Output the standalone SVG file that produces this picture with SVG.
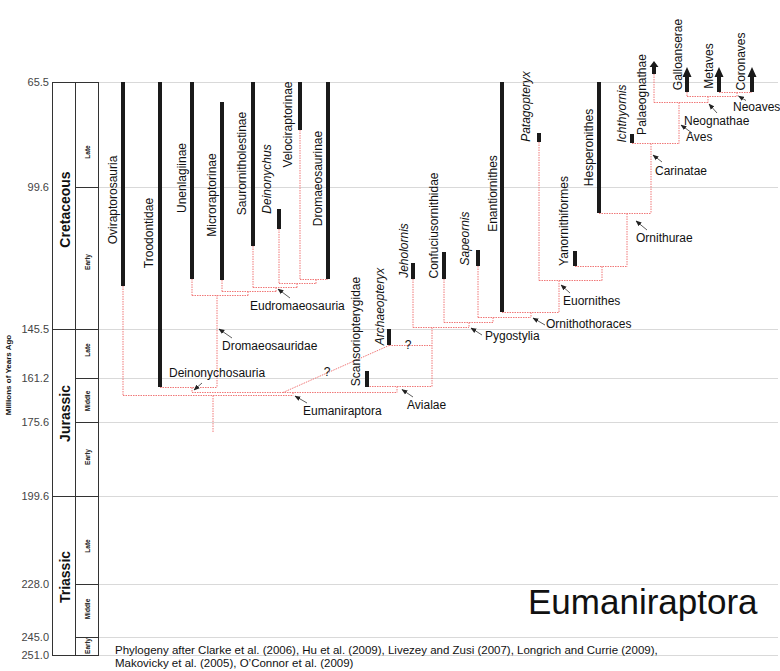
<svg xmlns="http://www.w3.org/2000/svg" width="780" height="671" viewBox="0 0 780 671">
<defs>
<marker id="ah" viewBox="0 0 10 10" refX="9" refY="5" markerWidth="6" markerHeight="6" orient="auto" markerUnits="userSpaceOnUse">
<path d="M0,1 L10,5 L0,9 z" fill="#222"/>
</marker>
<style>
.grid{stroke:#d9d9d9;stroke-width:1;fill:none}
.box{stroke:#333;stroke-width:1;fill:none}
.bar{fill:#1a1a1a}
.c{stroke:#f07878;stroke-width:1;stroke-dasharray:1.5 1;fill:none}
.ptr{stroke:#333;stroke-width:0.8;fill:none;marker-end:url(#ah)}
text{font-family:"Liberation Sans",Arial,sans-serif;fill:#111}
.lbl{font-size:12px}
.it{font-style:italic}
.age{font-size:11px;fill:#444;text-anchor:end}
.per{font-size:14px;font-weight:bold;text-anchor:middle}
.ep{font-size:6.5px;font-weight:bold;text-anchor:middle}
.r{text-anchor:middle}
.big{font-size:35px}
.foot{font-size:11.5px}
.thick{fill:#1a1a1a}
</style>
</defs>

<g id="gridlines">
<path class="grid" d="M98,82.5H778 M98,187.5H778 M98,329.5H778 M98,378.5H778 M98,422.5H778 M98,496.5H778 M98,584.5H778 M98,637.5H778 M98,655.5H778"/>
</g>

<g id="timescale">
<rect class="box" x="52.5" y="82.5" width="46" height="573"/>
<path class="box" d="M75.5,82.5V655.5 M52.5,329.5H98.5 M52.5,496.5H98.5 M75.5,187.5H98.5 M75.5,378.5H98.5 M75.5,422.5H98.5 M75.5,584.5H98.5 M75.5,637.5H98.5"/>
<text class="age" x="49" y="86">65.5</text>
<text class="age" x="49" y="191">99.6</text>
<text class="age" x="49" y="333">145.5</text>
<text class="age" x="49" y="382">161.2</text>
<text class="age" x="49" y="426">175.6</text>
<text class="age" x="49" y="500">199.6</text>
<text class="age" x="49" y="588">228.0</text>
<text class="age" x="49" y="641">245.0</text>
<text class="age" x="49" y="659">251.0</text>
<text font-size="8" font-weight="bold" text-anchor="middle" transform="translate(11,375) rotate(-90)">Millions of Years Ago</text>
<text class="per" transform="translate(69.5,209.5) rotate(-90)">Cretaceous</text>
<text class="per" transform="translate(69.5,413.5) rotate(-90)">Jurassic</text>
<text class="per" transform="translate(69.5,577) rotate(-90)">Triassic</text>
<text class="ep" transform="translate(90,152) rotate(-90)">Late</text>
<text class="ep" transform="translate(90,262) rotate(-90)">Early</text>
<text class="ep" transform="translate(90,350) rotate(-90)">Late</text>
<text class="ep" transform="translate(90,401) rotate(-90)">Middle</text>
<text class="ep" transform="translate(90,457) rotate(-90)">Early</text>
<text class="ep" transform="translate(90,546) rotate(-90)">Late</text>
<text class="ep" transform="translate(90,609) rotate(-90)">Middle</text>
<text class="ep" transform="translate(90,646) rotate(-90)">Early</text>
</g>

<g id="connectors">
<path class="c" d="M123,286V395.5 M123,395.5H293 M213,395.5V432"/>
<path class="c" d="M160,387.5H217 M217,295V387.5 M192,387.5V392.5 M192,392.5H397 M293,392.5V395.5"/>
<path class="c" d="M300,130V279.5 M300,279.5H328 M316,279.5V283.5 M279,229V283.5 M279,283.5H316 M297,283.5V287.5 M253,246V287.5 M253,287.5H297 M276,287.5V291.5 M222,280V291.5 M222,291.5H276 M248,291.5V295.5 M192,279V295.5 M192,295.5H248"/>
<path class="c" d="M283,392.5L389,345.5 M389,345.5H432 M367,386.5H432 M397,386.5V392.5 M432,327.5V386.5"/>
<path class="c" d="M413,279V327.5 M413,327.5H469 M469,322.5V327.5 M444,279V322.5 M444,322.5H493 M493,317.5V322.5 M478,266V317.5 M478,317.5H531 M531,312.5V317.5 M502,312.5H559 M559,280.5V312.5"/>
<path class="c" d="M539,142V280.5 M539,280.5H602 M602,266.5V280.5 M575,266.5H627 M627,213.5V266.5 M599,213.5H651 M651,143.5V213.5 M632,143.5H679 M679,102.5V143.5 M654,74V102.5 M654,102.5H708 M708,96.5V102.5 M687,92V96.5 M687,96.5H737 M737,92.5V96.5 M719,92.5H752"/>
<path class="ptr" d="M290,298L278,289"/>
<path class="ptr" d="M232,338L219,329"/>
<path class="ptr" d="M202,383L194,390"/>
<path class="ptr" d="M307,403L295,396"/>
<path class="ptr" d="M413,397L402,389.5"/>
<path class="ptr" d="M482,335L471,328"/>
<path class="ptr" d="M545,325L533,318"/>
<path class="ptr" d="M570,293L561,285"/>
<path class="ptr" d="M647,230L636,221"/>
<path class="ptr" d="M662,162L653,155"/>
<path class="ptr" d="M692,133L681,125"/>
<path class="ptr" d="M717,113L709,104"/>
<path class="ptr" d="M746,100.5L738.5,96"/>
</g>

<g id="oviraptorosauria"><rect class="bar" x="121" y="82" width="4" height="204"/><text class="lbl r" transform="translate(117,200) rotate(-90)">Oviraptorosauria</text></g>
<g id="troodontidae"><rect class="bar" x="158" y="82" width="4" height="305"/><text class="lbl r" transform="translate(153,233) rotate(-90)">Troodontidae</text></g>
<g id="unenlagiinae"><rect class="bar" x="190" y="82" width="4" height="197"/><text class="lbl r" transform="translate(186,178) rotate(-90)">Unenlagiinae</text></g>
<g id="microraptorinae"><rect class="bar" x="220" y="102" width="4" height="178"/><text class="lbl r" transform="translate(216,195) rotate(-90)">Microraptorinae</text></g>
<g id="saurornitholestinae"><rect class="bar" x="251" y="82" width="4" height="164"/><text class="lbl r" transform="translate(246,163.5) rotate(-90)">Saurornitholestinae</text></g>
<g id="deinonychus"><rect class="bar" x="277" y="209" width="4" height="20"/><text class="lbl r it" transform="translate(271,179) rotate(-90)">Deinonychus</text></g>
<g id="velociraptorinae"><rect class="bar" x="298" y="82" width="4" height="48"/><text class="lbl r" transform="translate(292,124.5) rotate(-90)">Velociraptorinae</text></g>
<g id="dromaeosaurinae"><rect class="bar" x="326" y="82" width="4" height="197"/><text class="lbl r" transform="translate(322,178.5) rotate(-90)">Dromaeosaurinae</text></g>
<g id="scansoriopterygidae"><rect class="bar" x="365" y="371" width="4" height="16"/><text class="lbl r" transform="translate(360,331.5) rotate(-90)">Scansoriopterygidae</text></g>
<g id="archaeopteryx"><rect class="bar" x="387" y="329" width="4" height="16"/><text class="lbl r it" transform="translate(384,306.5) rotate(-90)">Archaeopteryx</text></g>
<g id="jeholornis"><rect class="bar" x="411" y="263" width="4" height="16"/><text class="lbl r it" transform="translate(408,250.5) rotate(-90)">Jeholornis</text></g>
<g id="confuciusornithidae"><rect class="bar" x="442" y="252" width="4" height="27"/><text class="lbl r" transform="translate(438,225.5) rotate(-90)">Confuciusornithidae</text></g>
<g id="sapeornis"><rect class="bar" x="476" y="250" width="4" height="16"/><text class="lbl r it" transform="translate(469,238.5) rotate(-90)">Sapeornis</text></g>
<g id="enantiornithes"><rect class="bar" x="500" y="82" width="4" height="230"/><text class="lbl r" transform="translate(497,193.5) rotate(-90)">Enantiornithes</text></g>
<g id="patagopteryx"><rect class="bar" x="537" y="133" width="4" height="9"/><text class="lbl r it" transform="translate(530,106.5) rotate(-90)">Patagopteryx</text></g>
<g id="yanornithiformes"><rect class="bar" x="573" y="251" width="4" height="15"/><text class="lbl r" transform="translate(568,221) rotate(-90)">Yanornithiformes</text></g>
<g id="hesperonithes"><rect class="bar" x="597" y="82" width="4" height="131"/><text class="lbl r" transform="translate(593,147.5) rotate(-90)">Hesperonithes</text></g>
<g id="ichthyornis"><rect class="bar" x="630" y="134" width="4" height="9"/><text class="lbl r it" transform="translate(626,113.5) rotate(-90)">Ichthyornis</text></g>
<g id="palaeognathae"><path class="thick" d="M654,61L658.5,67H656V74H652V67H649.5Z"/><text class="lbl r" transform="translate(646,94.5) rotate(-90)">Palaeognathae</text></g>
<g id="galloanserae"><path class="thick" d="M687,67L691.5,77H689V92H685V77H682.5Z"/><text class="lbl r" transform="translate(682,54.5) rotate(-90)">Galloanserae</text></g>
<g id="metaves"><path class="thick" d="M719,67L723.5,77H721V92H717V77H714.5Z"/><text class="lbl r" transform="translate(713,66) rotate(-90)">Metaves</text></g>
<g id="coronaves"><path class="thick" d="M752,67L756.5,77H754V92H750V77H747.5Z"/><text class="lbl r" transform="translate(745,61.5) rotate(-90)">Coronaves</text></g>

<g id="clade-labels">
<text class="lbl" x="250" y="310">Eudromaeosauria</text>
<text class="lbl" x="222" y="350">Dromaeosauridae</text>
<text class="lbl" x="169" y="377">Deinonychosauria</text>
<text class="lbl" x="303" y="415">Eumaniraptora</text>
<text class="lbl" x="407" y="409">Avialae</text>
<text class="lbl" x="485" y="340">Pygostylia</text>
<text class="lbl" x="546" y="328">Ornithothoraces</text>
<text class="lbl" x="563" y="305">Euornithes</text>
<text class="lbl" x="636" y="242">Ornithurae</text>
<text class="lbl" x="655" y="175">Carinatae</text>
<text class="lbl" x="686" y="141">Aves</text>
<text class="lbl" x="684" y="124.5">Neognathae</text>
<text class="lbl" x="733" y="110.5">Neoaves</text>
<text class="lbl r" x="327" y="376">?</text>
<text class="lbl r" x="408" y="349">?</text>
</g>

<text class="big" x="528" y="614">Eumaniraptora</text>
<text class="foot" x="115" y="653.5">Phylogeny after Clarke et al. (2006), Hu et al. (2009), Livezey and Zusi (2007), Longrich and Currie (2009),</text>
<text class="foot" x="115" y="667">Makovicky et al. (2005), O’Connor et al. (2009)</text>
</svg>
